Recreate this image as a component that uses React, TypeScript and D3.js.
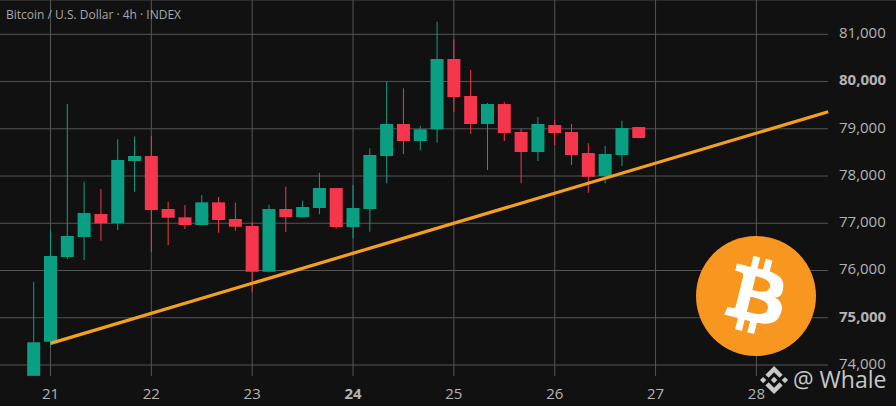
import React from 'react';
import * as d3 from 'd3';

const width = 896;
const height = 406;

// candles, 4h apart, first one is 4h before the 21st. values
const opens = [73770, 74493, 76285, 76710, 77196, 77000, 78318, 78424, 77302, 77126, 76963, 77443, 77090, 76942, 75974, 77302, 77132, 77323, 77746, 76921, 77302, 78424, 79101, 78741, 78989, 80477, 79694, 79101, 79524, 78932, 78508, 79080, 78932, 78487, 78000, 78445, 79037];
const closes = [74480, 76307, 76730, 77217, 77000, 78339, 78424, 77280, 77117, 76963, 77443, 77069, 76927, 75974, 77302, 77132, 77344, 77746, 76921, 77323, 78445, 79101, 78741, 78989, 80477, 79673, 79101, 79524, 78911, 78508, 79101, 78911, 78445, 77985, 78466, 79016, 78804];
const highs = [75763, 76857, 79525, 77880, 77725, 78777, 78832, 78847, 77456, 77386, 77598, 77556, 77435, 77027, 77393, 77774, 77477, 78070, 77746, 77810, 78587, 79997, 79857, 79059, 81267, 80894, 80244, 79545, 79567, 78995, 79256, 79186, 79101, 78693, 78635, 79171, 79037];
const lows = [73700, 74390, 76243, 76222, 76630, 76857, 77668, 76398, 76540, 76878, 76963, 76800, 76842, 75551, 75960, 76815, 77132, 77190, 76885, 76680, 76821, 77846, 78466, 78544, 78705, 79361, 78889, 78127, 78741, 77846, 78318, 78656, 78233, 77647, 77846, 78212, 78804];

const dayTicks = [21, 22, 23, 24, 25, 26, 27, 28];
const boldDays = [24];
const priceTicks = [81000, 80000, 79000, 78000, 77000, 76000, 75000, 74000];
const boldPrices = [80000, 75000];

// trend line ends: [hours since the 21st, price]
const trendLine: [number, number][] = [[0, 74458], [185.1, 79361]];

const title = 'Bitcoin / U.S. Dollar · 4h · INDEX';

const x = d3.scaleLinear().domain([0, 168]).range([50.5, 756.4]);
const y = d3.scaleLinear().domain([74000, 81000]).range([365, 34.3]);
const plotRight = 828;
const plotBottom = 376;

const UP = '#0a9f83';
const DOWN = '#f5364c';
const GRID = '#555555';
const LABEL = '#b4b4b4';
const FONT = '"Open Sans", sans-serif';

const trend = d3.line<[number, number]>().x(d => x(d[0])).y(d => y(d[1]));
const priceFmt = d3.format(',');

const App: React.FC = () => {
  const bodyW = 13;
  return (
    <svg width={width} height={height} viewBox={`0 0 ${width} ${height}`}
      style={{ position: 'absolute', left: 0, top: 0, background: '#111112' }}>
      <defs>
        <clipPath id="plot"><rect x={0} y={0} width={plotRight} height={plotBottom} /></clipPath>
      </defs>

      <rect x={0} y={0} width={width} height={1} fill="#2a2a2a" />

      {priceTicks.map(p => (
        <line key={p} x1={0} x2={plotRight} y1={y(p)} y2={y(p)} stroke={GRID} strokeWidth={1} />
      ))}
      {dayTicks.map(d => (
        <line key={d} x1={x((d - 21) * 24)} x2={x((d - 21) * 24)} y1={0} y2={plotBottom} stroke={GRID} strokeWidth={1} />
      ))}

      <g clipPath="url(#plot)">
        {opens.map((o, i) => {
          const cx = x((i - 1) * 4);
          const c = closes[i];
          const col = c >= o ? UP : DOWN;
          const top = y(Math.max(o, c));
          const bot = y(Math.min(o, c));
          return (
            <g key={i}>
              <line x1={cx} x2={cx} y1={y(highs[i])} y2={y(lows[i])} stroke={col} strokeWidth={1} />
              <rect x={cx - bodyW / 2} y={top} width={bodyW} height={bot - top} fill={col} />
            </g>
          );
        })}
      </g>

      <path d={trend(trendLine) ?? ''} fill="none" stroke="#f2a01e" strokeWidth={3.2} />

      <text x={6} y={19} fontFamily={FONT} fontSize={12} fill="#a8a8a8">{title}</text>

      {priceTicks.map(p => (
        <text key={p} x={839} y={y(p) + 3.8} fontFamily={FONT} fontSize={15}
          fontWeight={boldPrices.includes(p) ? 700 : 400} fill={LABEL}>{priceFmt(p)}</text>
      ))}
      {dayTicks.map(d => (
        <text key={d} x={x((d - 21) * 24)} y={398.5} textAnchor="middle" fontFamily={FONT} fontSize={15}
          fontWeight={boldDays.includes(d) ? 700 : 400} fill={LABEL}>{d}</text>
      ))}

      {/* bitcoin logo */}
      <circle cx={756} cy={296} r={60} fill="#f7971f" />
      <g transform="translate(756,296) scale(1.93) translate(-32,-32)">
        <path fill="#fff" d="M46.103,27.444c0.637-4.258-2.605-6.547-7.038-8.074l1.438-5.768l-3.511-0.875l-1.4,5.616c-0.923-0.23-1.871-0.447-2.813-0.662l1.41-5.653l-3.509-0.875l-1.439,5.766c-0.764-0.174-1.514-0.346-2.242-0.527l0.004-0.018l-4.842-1.209l-0.934,3.75c0,0,2.605,0.597,2.55,0.634c1.422,0.355,1.679,1.296,1.636,2.042l-1.638,6.571c0.098,0.025,0.225,0.061,0.365,0.117c-0.117-0.029-0.242-0.061-0.371-0.092l-2.296,9.205c-0.174,0.432-0.615,1.08-1.609,0.834c0.035,0.051-2.552-0.637-2.552-0.637l-1.743,4.019l4.569,1.139c0.85,0.213,1.683,0.436,2.503,0.646l-1.453,5.834l3.507,0.875l1.439-5.772c0.958,0.26,1.888,0.5,2.798,0.726l-1.434,5.745l3.511,0.875l1.453-5.823c5.987,1.133,10.489,0.676,12.384-4.739c1.527-4.36-0.076-6.875-3.226-8.515C44.141,33.025,45.8,31.5,46.103,27.444z M38.081,38.693c-1.085,4.36-8.426,2.003-10.806,1.412l1.928-7.729C31.583,32.97,39.215,34.147,38.081,38.693z M39.167,27.381c-0.99,3.966-7.1,1.951-9.082,1.457l1.748-7.01C33.815,22.322,40.199,23.246,39.167,27.381z" />
      </g>

      {/* watermark */}
      <g transform="translate(760,366) scale(0.222)" fill="#c8c8c8">
        <path d="M38.73,53.2l24.59-24.58,24.6,24.6,14.3-14.31L63.32,0,24.43,38.9Z" />
        <path d="M0,63.31l14.3-14.31,14.31,14.31-14.31,14.3Z" />
        <path d="M38.73,73.41,63.32,98l24.6-24.6,14.31,14.29h0L63.32,126.61,24.41,87.7l0,0Z" />
        <path d="M98,63.31l14.3-14.31,14.3,14.3-14.3,14.31Z" />
        <path d="M77.83,63.3h0L63.32,48.78,52.59,59.51h0l-1.23,1.23-2.54,2.54h0l0,0,14.5,14.5,14.51-14.52h0Z" />
      </g>
      <text x={793} y={388} fontFamily={FONT} fontSize={23} fill="#c8c8c8">@ Whale</text>
    </svg>
  );
};

export default App;
